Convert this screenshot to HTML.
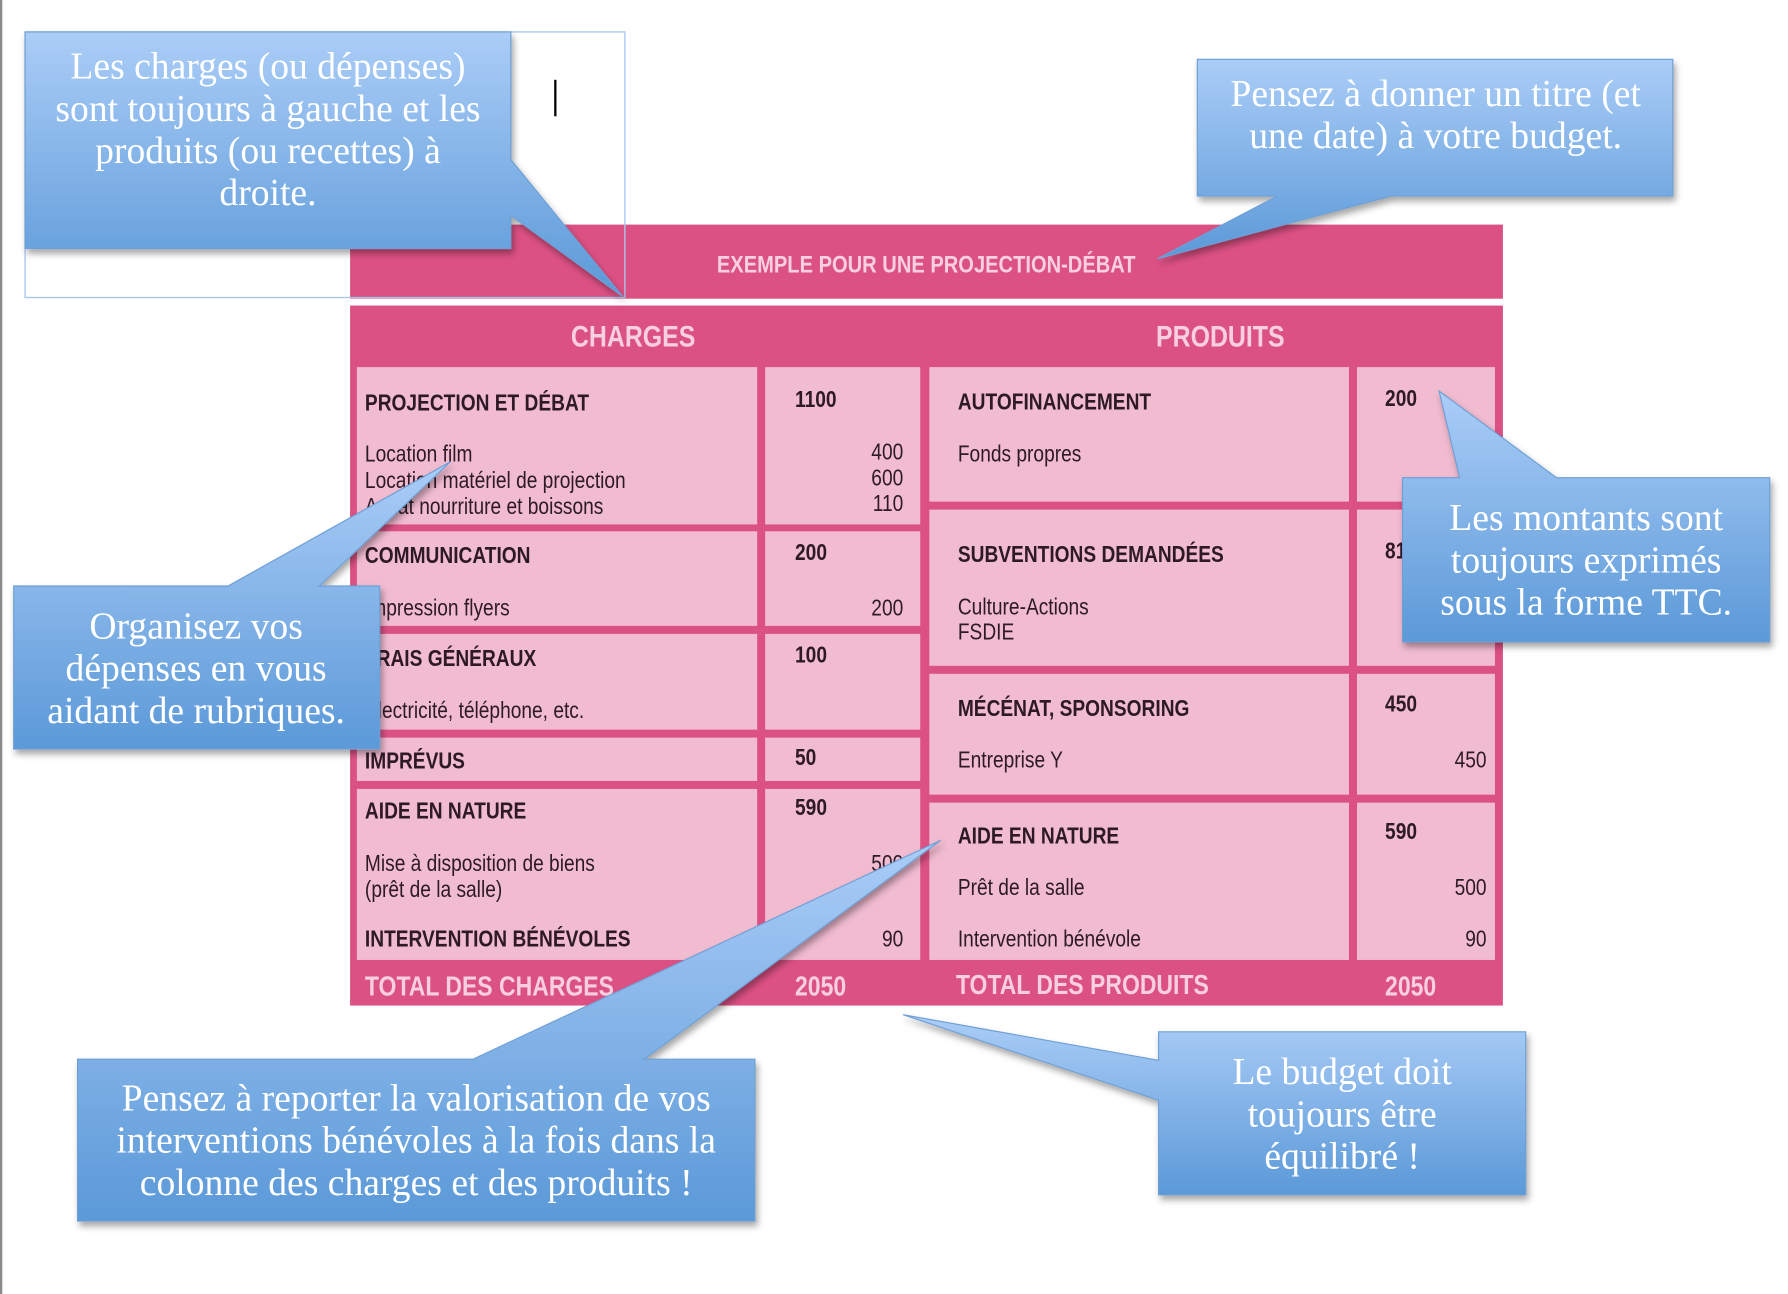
<!DOCTYPE html>
<html><head><meta charset="utf-8"><style>
html,body{margin:0;padding:0;background:#fff;}
svg{display:block}
.c{font-family:"Liberation Serif",serif;font-size:33px;fill:#fff;text-anchor:middle}
.t{font-family:"Liberation Sans Narrow","Liberation Sans",sans-serif;font-size:20px;fill:#2e1a26}
.b{font-weight:bold}
.r{text-anchor:end}
.m{text-anchor:middle}
.w{fill:#f7cfe0;font-weight:bold}
</style></head><body>
<svg width="1788" height="1294" viewBox="0 0 1568 1135" preserveAspectRatio="none" xmlns="http://www.w3.org/2000/svg">
<defs>
<linearGradient id="g" x1="0" y1="0" x2="0" y2="1">
<stop offset="0" stop-color="#abcdf7"/><stop offset="1" stop-color="#5b99d8"/></linearGradient>
<filter id="s" x="-10%" y="-10%" width="130%" height="130%"><feDropShadow dx="2" dy="4" stdDeviation="3" flood-color="#000" flood-opacity="0.35"/></filter>
</defs>
<rect x="0" y="0" width="2" height="1135" fill="#8a8a8a"/>
<rect x="307" y="197" width="1011" height="65" fill="#dc5183"/>
<rect x="307" y="268" width="1011" height="614" fill="#dc5183"/>
<g fill="#f1bbd0">
<rect x="313" y="322" width="351" height="138"/><rect x="671" y="322" width="136" height="138"/>
<rect x="313" y="466" width="351" height="83"/><rect x="671" y="466" width="136" height="83"/>
<rect x="313" y="556" width="351" height="84"/><rect x="671" y="556" width="136" height="84"/>
<rect x="313" y="647" width="351" height="38"/><rect x="671" y="647" width="136" height="38"/>
<rect x="313" y="692" width="351" height="150"/><rect x="671" y="692" width="136" height="150"/>
<rect x="815" y="322" width="368" height="118"/><rect x="1190" y="322" width="121" height="118"/>
<rect x="815" y="447" width="368" height="137"/><rect x="1190" y="447" width="121" height="137"/>
<rect x="815" y="591" width="368" height="106"/><rect x="1190" y="591" width="121" height="106"/>
<rect x="815" y="704" width="368" height="138"/><rect x="1190" y="704" width="121" height="138"/>
</g>
<g transform="scale(0.84,1)">
<text x="967" y="239" class="t w m" style="font-size:21px">EXEMPLE POUR UNE PROJECTION-DÉBAT</text>
<text x="661" y="304" class="t w m" style="font-size:26px">CHARGES</text>
<text x="1274" y="304" class="t w m" style="font-size:26px">PRODUITS</text>
<text x="381" y="360" class="t b">PROJECTION ET DÉBAT</text><text x="830" y="357" class="t b">1100</text>
<text x="381" y="405" class="t">Location film</text>
<text x="381" y="428" class="t">Location matériel de projection</text>
<text x="381" y="451" class="t">Achat nourriture et boissons</text>
<text x="943" y="403" class="t r">400</text><text x="943" y="426" class="t r">600</text><text x="943" y="448" class="t r">110</text>
<text x="381" y="494" class="t b">COMMUNICATION</text><text x="830" y="491" class="t b">200</text>
<text x="381" y="540" class="t">Impression flyers</text><text x="943" y="540" class="t r">200</text>
<text x="381" y="584" class="t b">FRAIS GÉNÉRAUX</text><text x="830" y="581" class="t b">100</text>
<text x="381" y="630" class="t">Électricité, téléphone, etc.</text>
<text x="381" y="674" class="t b">IMPRÉVUS</text><text x="830" y="671" class="t b">50</text>
<text x="381" y="718" class="t b">AIDE EN NATURE</text><text x="830" y="715" class="t b">590</text>
<text x="381" y="764" class="t">Mise à disposition de biens</text>
<text x="381" y="787" class="t">(prêt de la salle)</text><text x="943" y="764" class="t r">500</text>
<text x="381" y="830" class="t b">INTERVENTION BÉNÉVOLES</text><text x="943" y="830" class="t r">90</text>
<text x="381" y="873" class="t w" style="font-size:24px">TOTAL DES CHARGES</text><text x="830" y="873" class="t w" style="font-size:24px">2050</text>
<text x="1000" y="359" class="t b">AUTOFINANCEMENT</text><text x="1446" y="356" class="t b">200</text>
<text x="1000" y="405" class="t">Fonds propres</text><text x="1552" y="405" class="t r">200</text>
<text x="1000" y="493" class="t b">SUBVENTIONS DEMANDÉES</text><text x="1446" y="490" class="t b">810</text>
<text x="1000" y="539" class="t">Culture-Actions</text><text x="1000" y="561" class="t">FSDIE</text>
<text x="1000" y="628" class="t b">MÉCÉNAT, SPONSORING</text><text x="1446" y="624" class="t b">450</text>
<text x="1000" y="673" class="t">Entreprise Y</text><text x="1552" y="673" class="t r">450</text>
<text x="1000" y="740" class="t b">AIDE EN NATURE</text><text x="1446" y="736" class="t b">590</text>
<text x="1000" y="785" class="t">Prêt de la salle</text><text x="1552" y="785" class="t r">500</text>
<text x="1000" y="830" class="t">Intervention bénévole</text><text x="1552" y="830" class="t r">90</text>
<text x="998" y="872" class="t w" style="font-size:24px">TOTAL DES PRODUITS</text><text x="1446" y="873" class="t w" style="font-size:24px">2050</text>
</g>
<rect x="22" y="28" width="526" height="233" fill="none" stroke="#a8c8ee" stroke-width="1.2"/>
<rect x="486" y="70" width="2" height="32" fill="#000"/>
<g filter="url(#s)" fill="url(#g)" stroke="#6d9fd6" stroke-width="1">
<path d="M22,28 H448 V140 L546,260 L448,189 V218 H22 Z"/>
<path d="M1050,52 H1467 V172 H1220 L1015,227 L1120,172 H1050 Z"/>
<path d="M1230,419 H1280 L1262,343 L1365,419 H1552 V563 H1230 Z"/>
<path d="M12,514 H200 L395,405 L280,514 H333 V657 H12 Z"/>
<path d="M68,929 H415 L825,737 L565,929 H662 V1071 H68 Z"/>
<path d="M1016,905 H1338 V1048 H1016 V965 L792,890 L1016,930 Z"/>
</g>
<text x="235" y="69" class="c">Les charges (ou dépenses)</text>
<text x="235" y="106" class="c">sont toujours à gauche et les</text>
<text x="235" y="143" class="c">produits (ou recettes) à</text>
<text x="235" y="180" class="c">droite.</text>
<text x="1259" y="93" class="c">Pensez à donner un titre (et</text>
<text x="1259" y="130" class="c">une date) à votre budget.</text>
<text x="1391" y="465" class="c">Les montants sont</text>
<text x="1391" y="502" class="c">toujours exprimés</text>
<text x="1391" y="539" class="c">sous la forme TTC.</text>
<text x="172" y="560" class="c">Organisez vos</text>
<text x="172" y="597" class="c">dépenses en vous</text>
<text x="172" y="634" class="c">aidant de rubriques.</text>
<text x="365" y="974" class="c">Pensez à reporter la valorisation de vos</text>
<text x="365" y="1011" class="c">interventions bénévoles à la fois dans la</text>
<text x="365" y="1048" class="c">colonne des charges et des produits !</text>
<text x="1177" y="951" class="c">Le budget doit</text>
<text x="1177" y="988" class="c">toujours être</text>
<text x="1177" y="1025" class="c">équilibré !</text>
</svg>
</body></html>
